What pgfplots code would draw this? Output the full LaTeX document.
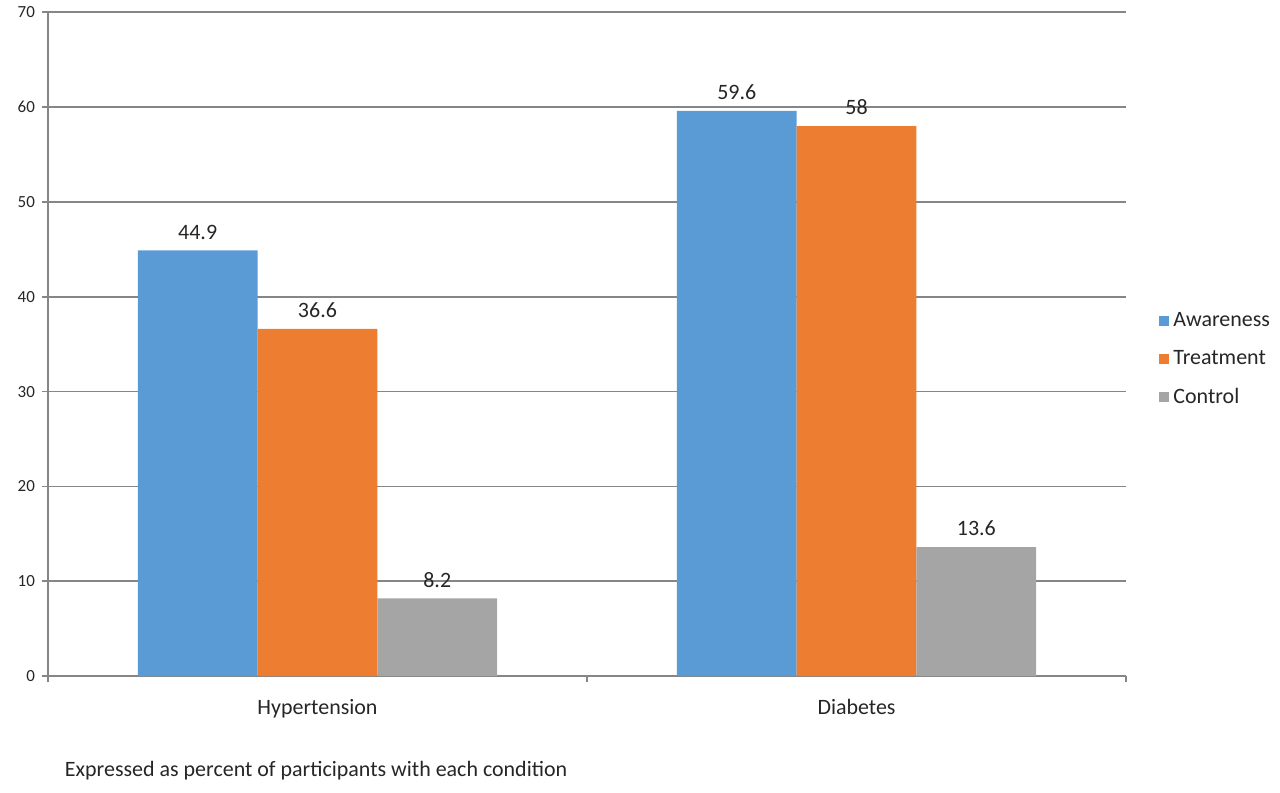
\documentclass[border=0pt]{standalone}
\usepackage{fontspec}
\setmainfont{Carlito}
\usepackage{pgfplots}
\pgfplotsset{compat=1.18}
\definecolor{cblue}{HTML}{5B9BD5}
\definecolor{corange}{HTML}{ED7D31}
\definecolor{cgray}{HTML}{A5A5A5}
\definecolor{axgray}{HTML}{868686}
\definecolor{txt}{HTML}{262626}
\begin{document}
\begin{tikzpicture}
\begin{axis}[name=ax,
  scale only axis,
  width=540pt, height=332.5pt,
  xmin=-0.5, xmax=1.5,
  ymin=0, ymax=70,
  ytick={0,10,...,70},
  xtick={0,1},
  xticklabels={Hypertension, Diabetes},
  x tick style={draw=none},
  extra x ticks={-0.5,0.5,1.5},
  extra x tick labels={},
  extra x tick style={x tick style={draw=axgray, line width=0.8pt}},
  axis x line*=bottom, axis y line*=left,
  axis line style={axgray, line width=0.8pt, -},
  ymajorgrids, grid style={axgray, line width=0.8pt},
  major tick length=3pt,
  y tick style={axgray, line width=0.8pt},
  tick align=outside,
  /pgf/number format/assume math mode=true,
  yticklabel style={font=\fontsize{8.5}{10}\selectfont, text=txt},
  xticklabel style={font=\fontsize{11}{13}\selectfont, text=txt, yshift=-5pt},
  ybar=0pt,
  bar width=0.2222,
  nodes near coords,
  nodes near coords style={font=\fontsize{11}{13}\selectfont, text=txt, yshift=2pt},
  legend style={at={(1.025,0.477)}, anchor=west, draw=none, fill=none,
    font=\fontsize{11}{13}\selectfont, text=txt, row sep=6.5pt},
  legend cell align=left,
  legend image code/.code={\fill (0pt,-2.5pt) rectangle (5pt,2.5pt);},
]
\addplot[draw=none, fill=cblue, bar shift=-0.2222] coordinates {(0,44.9) (1,59.6)};
\addlegendentry{Awareness}
\addplot[draw=none, fill=corange, bar shift=0] coordinates {(0,36.6) (1,58)};
\addlegendentry{Treatment}
\addplot[draw=none, fill=cgray, bar shift=0.2222] coordinates {(0,8.2) (1,13.6)};
\addlegendentry{Control}
\end{axis}
\node[anchor=west, font=\fontsize{11}{13}\selectfont, text=txt] at ([shift={(5pt,-47.5pt)}]ax.south west) {Expressed as percent of participants with each condition};
\path ([shift={(-24pt,-58.5pt)}]ax.south west) rectangle ([shift={(616pt,338.5pt)}]ax.south west);
\end{tikzpicture}
\end{document}
